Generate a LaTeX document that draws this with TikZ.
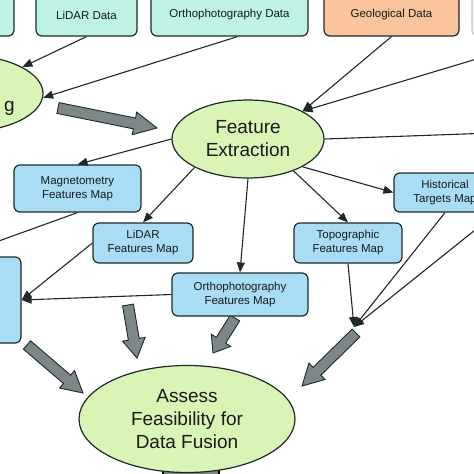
\documentclass[tikz,border=0pt]{standalone}
\usepackage{fontspec}
\setmainfont{Liberation Sans}
\usetikzlibrary{shapes.geometric,calc,arrows.meta}
\definecolor{tealc}{HTML}{BDF2E4}
\definecolor{orangec}{HTML}{F9C39B}
\definecolor{bluec}{HTML}{A8DDF5}
\definecolor{greenc}{HTML}{D9F5B5}
\definecolor{grayc}{HTML}{7D8787}
\definecolor{bord}{HTML}{1E2A2A}
\definecolor{txt}{HTML}{1A1A1A}
\newcommand{\blockarr}[3]{%
  \draw[blockarrow] let \p1=(#1), \p2=(#2),
    \n1={atan2(\y2-\y1,\x2-\x1)},
    \n2={veclen(\x2-\x1,\y2-\y1)-#3pt}
  in ($(\p1)+(\n1+90:5.5pt)$) -- ($(\p1)+(\n1:\n2)+(\n1+90:5.5pt)$)
     -- ($(\p1)+(\n1:\n2)+(\n1+90:11.5pt)$) -- (\p2)
     -- ($(\p1)+(\n1:\n2)+(\n1-90:11.5pt)$)
     -- ($(\p1)+(\n1:\n2)+(\n1-90:5.5pt)$)
     -- ($(\p1)+(\n1-90:5.5pt)$) -- cycle;}
\begin{document}
\begin{tikzpicture}[x=1pt,y=-1pt,
  box/.style={draw=bord, line width=1.2pt, rounded corners=6pt, inner sep=0pt, align=center, font=\fontsize{11.5}{14}\selectfont, text=txt},
  databox/.style={box, fill=tealc},
  geobox/.style={box, fill=orangec},
  mapbox/.style={box, fill=bluec},
  oval/.style={ellipse, draw=bord, line width=1.2pt, fill=greenc, inner sep=0pt, align=center, font=\fontsize{19}{23}\selectfont, text=txt},
  conn/.style={line width=1.1pt, draw=bord, -{Triangle[length=10pt,width=8pt]}},
  plainconn/.style={line width=1.1pt, draw=bord},
  blockarrow/.style={fill=grayc, draw=bord, line width=0.9pt, line join=miter},
]
\useasboundingbox (0,0) rectangle (474,474);
\clip (0,0) rectangle (474,474);
\fill[white] (0,0) rectangle (474,474);

% coordinates for block arrows and free ends
\coordinate (a1s) at (58,108);   \coordinate (a1e) at (157,128);
\coordinate (a2s) at (27,345);   \coordinate (a2e) at (83,393);
\coordinate (a3s) at (128,305);  \coordinate (a3e) at (137,358);
\coordinate (a4s) at (235,318);  \coordinate (a4e) at (213,353);
\coordinate (a5s) at (356,333);  \coordinate (a5e) at (302,386);
\coordinate (mg) at (354,327);
\coordinate (offR0) at (520,46);
\coordinate (offR1) at (520,132);
\coordinate (offR2) at (520,194);
\coordinate (offL1) at (-40,255);

\blockarr{a1s}{a1e}{23}
\blockarr{a2s}{a2e}{21}
\blockarr{a3s}{a3e}{19}
\blockarr{a4s}{a4e}{15}
\blockarr{a5s}{a5e}{21}

% dark shape below the bottom ellipse
\draw[fill=grayc, draw=black, line width=2pt] (163,464) rectangle (219,492);

% top data boxes
\node[databox, minimum width=108pt, minimum height=42pt] (leftD) at (-40,15) {};
\node[databox, minimum width=101pt, minimum height=42pt] (lidarD) at (86.5,15) {LiDAR Data};
\node[databox, minimum width=157pt, minimum height=42pt] (orthoD) at (229.5,15) {Orthophotography Data};
\node[geobox, minimum width=135pt, minimum height=42pt] (geoD) at (391.5,15) {Geological Data};
\node[box, draw=gray!45, fill=gray!8, minimum width=100pt, minimum height=42pt] (rightD) at (522,15) {};

% ellipses
\node[oval, minimum width=160pt, minimum height=77pt] (proc) at (-37,93.5) {};
\node[font=\fontsize{19}{23}\selectfont, text=txt, anchor=base east, inner sep=0pt] (gtxt) at (15,111) {g};
\node[oval, minimum width=152pt, minimum height=78pt] (fe) at (248,139) {Feature\\Extraction};
\node[oval, minimum width=216pt, minimum height=107pt] (assess) at (187,419) {Assess\\Feasibility for\\Data Fusion};

% feature maps
\node[mapbox, minimum width=127pt, minimum height=47pt] (mag) at (77.5,188.5) {Magnetometry\\Features Map};
\node[mapbox, minimum width=100pt, minimum height=40pt] (lidarF) at (143,243) {LiDAR\\Features Map};
\node[mapbox, minimum width=136pt, minimum height=43pt] (orthoF) at (240,294.5) {Orthophotography\\Features Map};
\node[mapbox, minimum width=108pt, minimum height=40pt] (topoF) at (348,243) {Topographic\\Features Map};
\node[mapbox, minimum width=102pt, minimum height=39pt] (histF) at (445,192.5) {Historical\\Targets Map};
\node[mapbox, minimum width=81pt, minimum height=86pt] (leftM) at (-19.5,300) {};

% thin connectors
\draw[conn] (lidarD.south) -- (proc.24);
\draw[conn] ([xshift=8pt]orthoD.south) -- (proc.-3);
\draw[conn] (geoD.south) -- (fe.27);
\draw[conn] (offR0) -- (fe.27);
\draw[plainconn] (fe.east) -- (offR1);
\draw[conn] (fe.west) -- (mag.north);
\draw[conn] (fe.208) -- (lidarF.north);
\draw[conn] (fe.south) -- (orthoF.north);
\draw[conn] (fe.-35) -- (topoF.north);
\draw[conn] (fe.-27) -- (histF.west);
\draw[plainconn] (mag.south) -- (offL1);
\draw[conn] (lidarF.west) -- (leftM.east);
\draw[conn] (orthoF.west) -- (leftM.east);
\draw[conn] (topoF.south) -- (mg);
\draw[conn] (histF.south) -- (mg);
\draw[conn] (offR2) -- (mg);
\end{tikzpicture}
\end{document}
